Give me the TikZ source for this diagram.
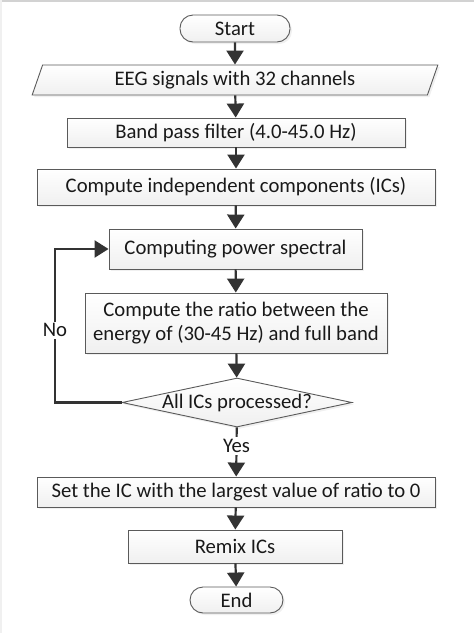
\documentclass[tikz,border=0pt]{standalone}
\usepackage{fontspec}
\setmainfont{Carlito}
\usepackage{xcolor}
\usetikzlibrary{shapes.geometric, arrows.meta, shadows}

\definecolor{edgegray}{HTML}{5A5A5A}
\definecolor{arrowgray}{HTML}{333333}

\begin{document}
\begin{tikzpicture}[x=1pt, y=-1pt,
    font=\fontsize{20.7}{24}\selectfont,
    box/.style={draw=edgegray, line width=0.9pt, top color=white,
      bottom color=gray!12, inner sep=0pt, text=black!90, align=center,
      drop shadow={opacity=0.12, shadow xshift=2pt, shadow yshift=-2pt}},
    term/.style={box, rounded corners=13pt},
    flow/.style={draw=arrowgray, line width=2.2pt,
      -{Triangle[width=17pt, length=14pt]}},
    lbl/.style={fill=white, inner sep=2pt, text=black!90}]
  %% page and the thin grey frame of the scan
  \useasboundingbox (0,0) rectangle (474,633);
  \fill[gray!35] (0,0) rectangle (474,2);
  \fill[gray!12] (0,0) rectangle (2,633);
  %% blocks, top to bottom
  \node[term, minimum width=110, minimum height=27] (start) at (235,28.5) {Start};
  \node[box, trapezium, trapezium left angle=70, trapezium right angle=110,
    trapezium stretches=true, minimum width=406, minimum height=30]
    (eeg) at (235,80) {EEG signals with 32 channels};
  \node[box, minimum width=338, minimum height=29] (bpf) at (236,132.5)
    {Band pass filter (4.0-45.0 Hz)};
  \node[box, minimum width=398, minimum height=36] (ica) at (236,187)
    {Compute independent components (ICs)};
  \node[box, minimum width=253, minimum height=40] (psd) at (235.5,249)
    {Computing power spectral};
  \node[box, minimum width=302, minimum height=60] (ratio) at (236,323)
    {Compute the ratio between the\\energy of (30-45 Hz) and full band};
  \node[box, diamond, shape aspect=4.7, inner xsep=-6pt, inner ysep=-3pt,
    minimum width=230, minimum height=49] (check) at (237,402.5)
    {All ICs processed?};
  \node[box, minimum width=398, minimum height=30] (setic) at (236,492)
    {Set the IC with the largest value of ratio to 0};
  \node[box, minimum width=214, minimum height=33] (remix) at (235,546.5)
    {Remix ICs};
  \node[term, minimum width=93, minimum height=26] (end) at (236.5,600) {End};
  %% straight flow
  \draw[flow] (start) -- (eeg);
  \draw[flow] (eeg) -- (bpf);
  \draw[flow] (bpf) -- (ica);
  \draw[flow] (ica) -- (psd);
  \draw[flow] (psd) -- (ratio);
  \draw[flow] (ratio) -- (check);
  \draw[flow] (check) -- node[lbl, pos=0.38] (yes) {Yes} (setic);
  \draw[flow] (setic) -- (remix);
  \draw[flow] (remix) -- (end);
  %% loop back for the next IC
  \coordinate (loop) at (55,402.5);
  \draw[flow] (check.west) -- (loop)
    -- node[lbl, pos=0.47] (no) {No} (loop |- psd.west) -- (psd.west);
\end{tikzpicture}
\end{document}
